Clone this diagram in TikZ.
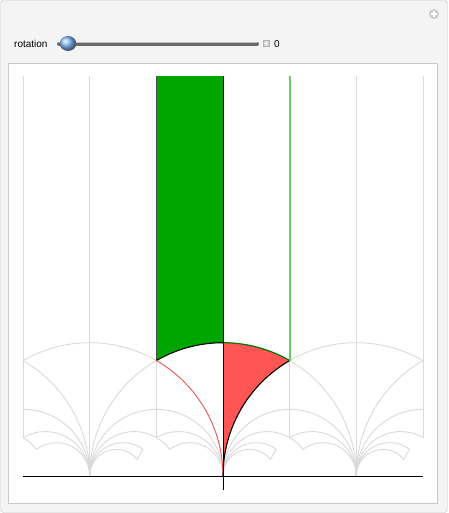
\documentclass[tikz,border=0pt]{standalone}
\usepackage{fontspec}
\setmainfont{Liberation Sans}
\definecolor{panelbg}{RGB}{244,244,244}
\definecolor{panelborder}{RGB}{196,196,196}
\definecolor{innerborder}{RGB}{200,200,200}
\definecolor{tessgray}{RGB}{218,218,218}
\definecolor{gfill}{RGB}{0,166,0}
\definecolor{rfill}{RGB}{255,85,85}
\definecolor{edgegreen}{RGB}{100,205,100}
\definecolor{dgreen}{RGB}{0,120,0}
\definecolor{rline}{RGB}{255,80,80}
\definecolor{trackc}{RGB}{105,105,105}
\definecolor{knobc}{RGB}{140,190,250}
\newcommand\geo[5][]{\draw[#1] ({(#2)+(#3)*cos(#4)},{(#3)*sin(#4)}) arc[start angle=#4,end angle=#5,radius=#3];}
\tikzset{
  tess/.style={draw=tessgray, line width=0.9pt},
  outl/.style={draw=black, line width=1.1pt},
  uitext/.style={font=\fontsize{10}{12}\selectfont, inner sep=0pt}
}
\begin{document}
\begin{tikzpicture}[x=1pt,y=-1pt]
\useasboundingbox (0,0) rectangle (448,513);
% outer panel
\draw[fill=panelbg, draw=panelborder, rounded corners=3pt] (0.5,0.5) rectangle (447.5,512.5);
% plus icon top right
\node[circle, fill=black!20, minimum size=10pt, inner sep=0pt] (plusicon) at (434,14) {};
\draw[white, line width=1.3pt] (431,14) -- (437,14) (434,11) -- (434,17);
% control row
\node[uitext, anchor=west] (rotlabel) at (14,44) {rotation};
\draw[trackc, line width=4pt, line cap=round] (59,44) -- (257,44);
\draw[black!25, line width=1pt] (59,43) -- (257,43);
\shade[ball color=knobc] (68,43.5) ellipse [x radius=8.3, y radius=7.5];
\node[draw=black!30, fill=black!18, minimum size=6pt, inner sep=0pt] (plusbox) at (266,43.5) {};
\draw[white, line width=0.8pt] (263.8,43.5) -- (268.2,43.5) (266,41.3) -- (266,45.7);
\node[uitext, anchor=west] (rotval) at (274,44) {0};
% inner panel
\draw[fill=white, draw=innerborder] (8.5,63.5) rectangle (437.5,503.5);

\begin{scope}[shift={(223pt,-476pt)}, x=133.3pt, y=133.3pt]
  % tessellation (gray)
  \foreach \n in {-1,0,1}{
    % S(L0)+n
    \draw[tess] (\n,0) -- (\n,1);
    \geo[tess]{\n}{1}{60}{90}
    \geo[tess]{\n+1}{1}{120}{180}
    % S(L1)+n
    \geo[tess]{\n-1}{1}{0}{60}
    \draw[tess] (\n-0.5,0.5) -- (\n-0.5,0.866);
    \geo[tess]{\n-0.5}{0.5}{0}{90}
    % S(L-1)+n
    \geo[tess]{\n+0.33333}{0.33333}{60}{180}
    \draw[tess] (\n+0.5,0.28868) -- (\n+0.5,0.5);
    \geo[tess]{\n+0.5}{0.5}{90}{180}
    % S(L2)+n
    \geo[tess]{\n-0.33333}{0.33333}{0}{120}
    \geo[tess]{\n-0.25}{0.25}{0}{126.87}
    \geo[tess]{\n-0.66667}{0.33333}{36.87}{60}
    % S(L-2)+n
    \geo[tess]{\n+0.25}{0.25}{53.13}{180}
    \geo[tess]{\n+0.2}{0.2}{38.21}{180}
    \geo[tess]{\n+0.66667}{0.33333}{143.13}{158.21}
  }
  % upper strips
  \draw[tess] (-1.5,0.866) -- (-1.5,3);
  \draw[tess] (-1,1) -- (-1,3);
  \geo[tess]{-1}{1}{90}{120}
  \draw[tess] (1,1) -- (1,3);
  \geo[tess]{1}{1}{90}{120}
  \draw[tess] (1.5,0.866) -- (1.5,3);
  \draw[tess] (-1.5,0.28868) -- (-1.5,0.5);
  \draw[tess] (1.5,0.5) -- (1.5,0.866);

  % green fundamental half-strip
  \fill[gfill] (-0.5,3) -- (-0.5,0.86603) arc[start angle=120,end angle=90,radius=1] -- (0,3) -- cycle;
  % red image
  \fill[rfill] (0,0) -- (0,1) arc[start angle=90,end angle=60,radius=1] arc[start angle=120,end angle=180,radius=1] -- cycle;
  % coloured edges
  \draw[black!70, line width=1pt] (-0.5,3) -- (-0.5,0.86603);
  \geo[outl]{0}{1}{90}{120}
  \geo[draw=dgreen, line width=1.2pt]{0}{1}{60}{90}
  \geo[outl]{1}{1}{120}{180}
  \fill[edgegreen] (0.4925,3) rectangle (0.5075,0.86603);
  \geo[draw=rline, line width=0.8pt]{-1}{1}{0}{60}
  % axes
  \draw[black, line width=1pt] (-1.5,0) -- (1.5,0);
  \draw[black, line width=1pt] (0,3) -- (0,-0.105);
\end{scope}
\end{tikzpicture}
\end{document}
